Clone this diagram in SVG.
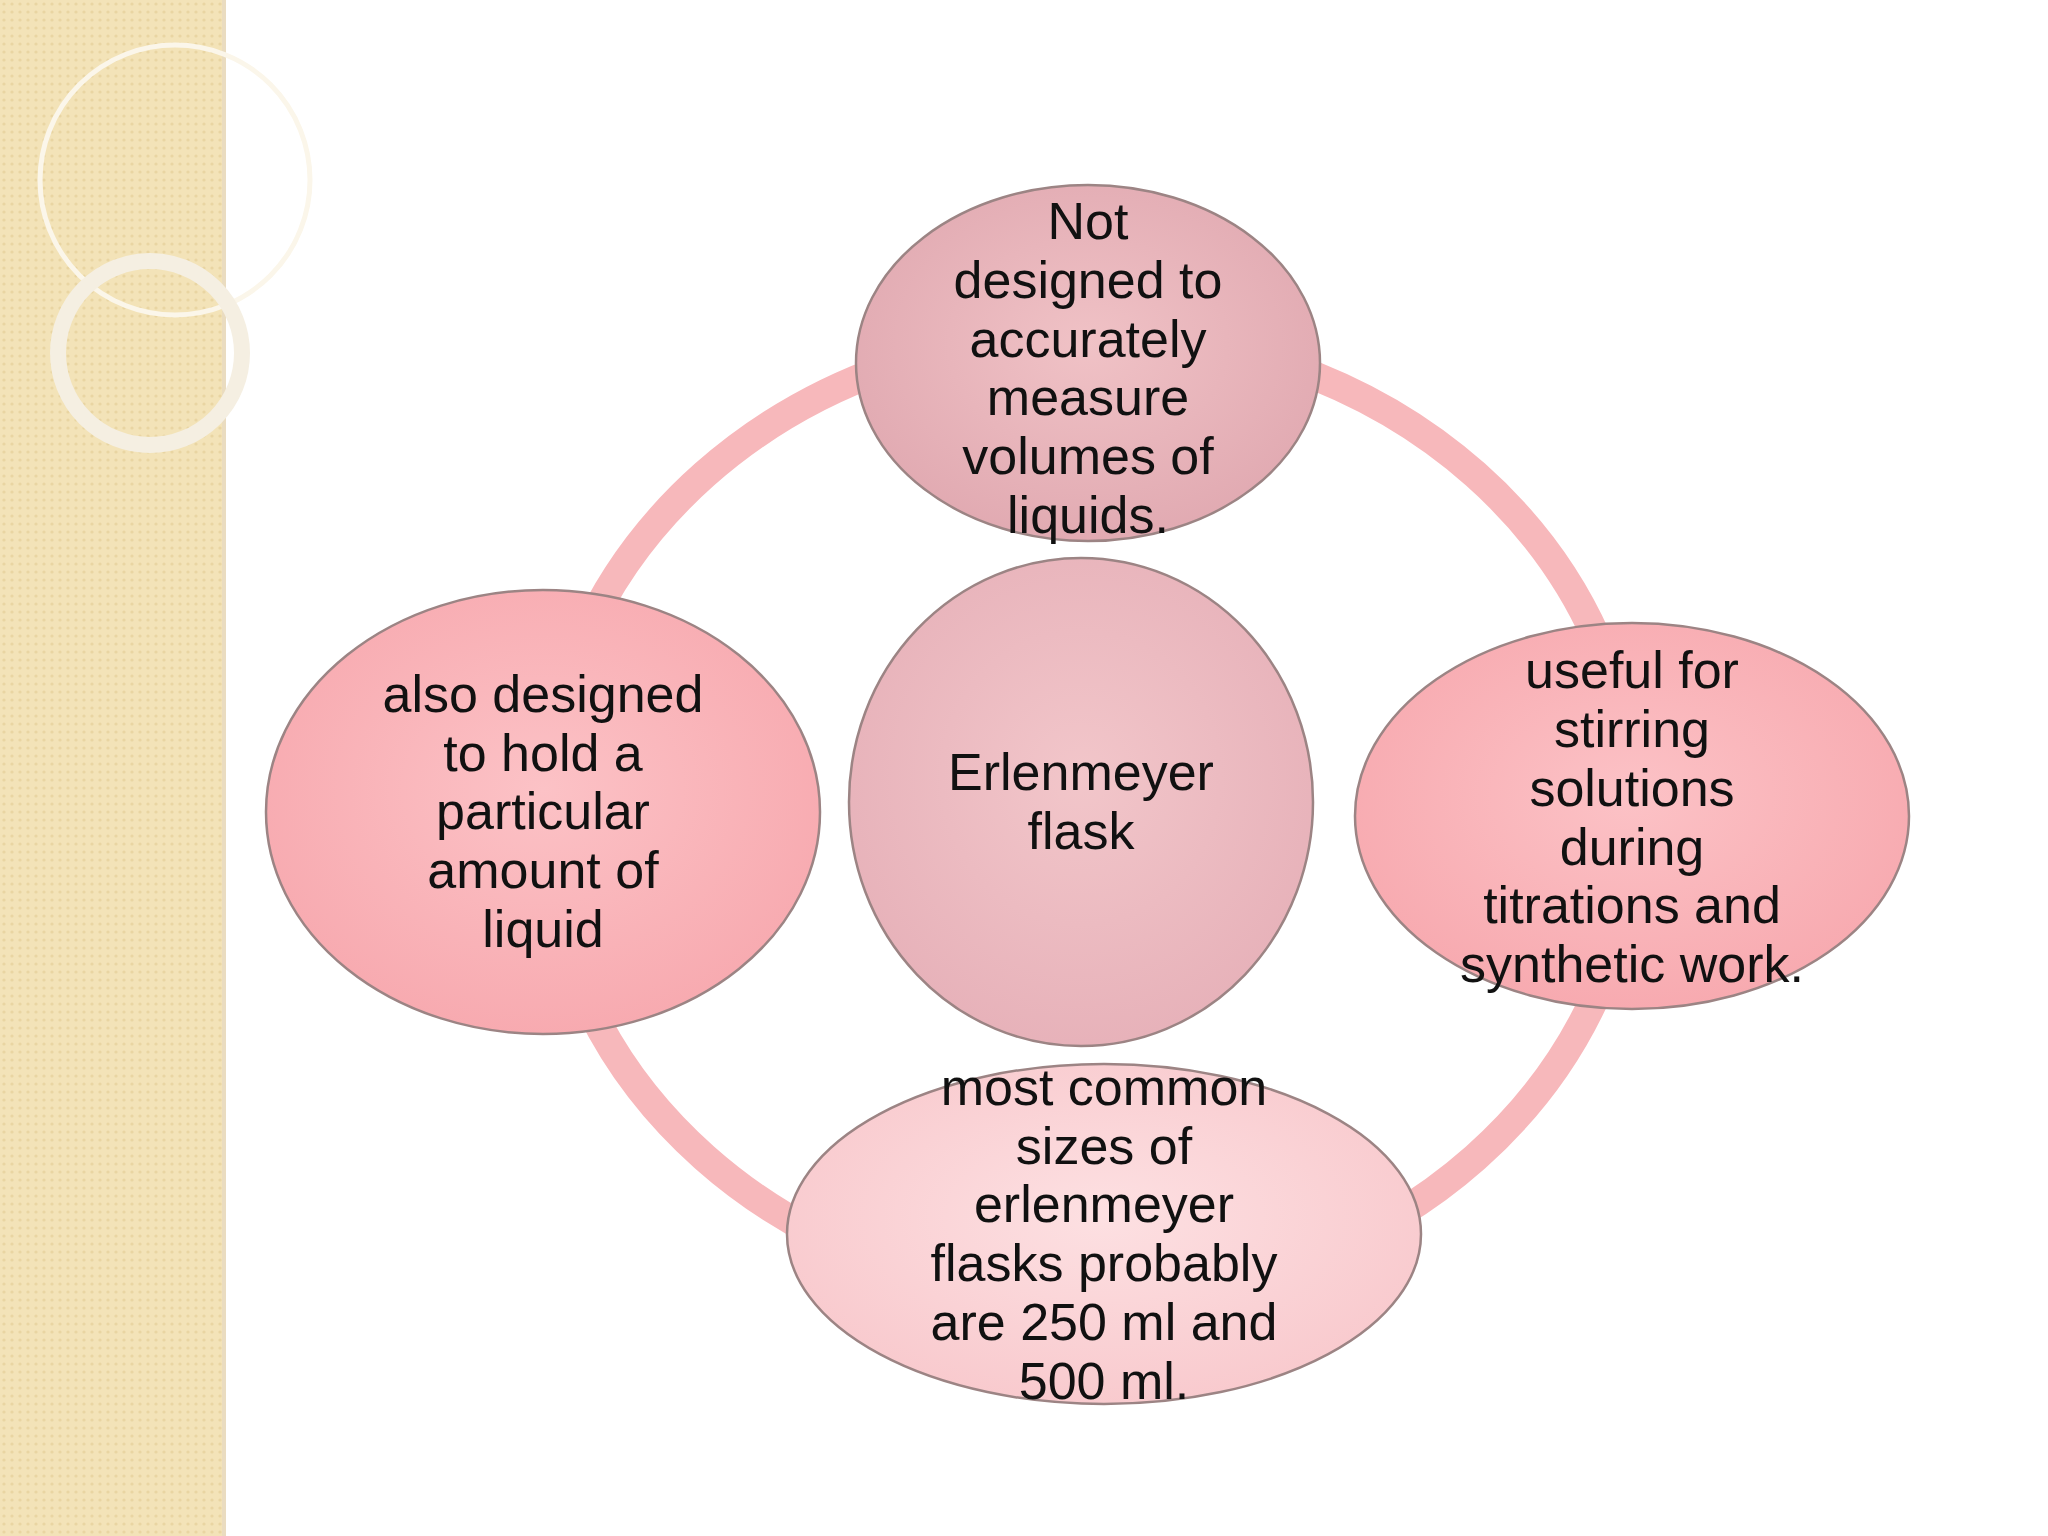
<svg xmlns="http://www.w3.org/2000/svg" width="2048" height="1536" viewBox="0 0 2048 1536">
<style>
.t{font-family:"Liberation Sans",Arial,sans-serif;font-size:52px;fill:#111;text-anchor:middle}
.n{stroke:#9c8484;stroke-width:2.5}
</style>
<defs>
<pattern id="dots" width="8" height="8" patternUnits="userSpaceOnUse"><rect width="8" height="8" fill="#f3e3b8"/><circle cx="4" cy="4" r="1.6" fill="#e9d5a2"/></pattern>
<radialGradient id="g1" cx="50%" cy="45%" r="60%"><stop offset="0" stop-color="#f0c2c6"/><stop offset="1" stop-color="#e0a8b0"/></radialGradient>
<radialGradient id="g2" cx="50%" cy="45%" r="60%"><stop offset="0" stop-color="#f2c6ca"/><stop offset="1" stop-color="#e6b0b8"/></radialGradient>
<radialGradient id="g3" cx="50%" cy="45%" r="60%"><stop offset="0" stop-color="#fcc2c6"/><stop offset="1" stop-color="#f7a8ae"/></radialGradient>
<radialGradient id="g4" cx="50%" cy="45%" r="60%"><stop offset="0" stop-color="#fde0e2"/><stop offset="1" stop-color="#f8c8cc"/></radialGradient>
</defs>
<rect width="2048" height="1536" fill="#fff"/>
<rect width="226" height="1536" fill="url(#dots)"/>
<rect x="222" width="4" height="1536" fill="#eadcc0"/>
<circle cx="175" cy="180" r="135" fill="none" stroke="#fbf6ea" stroke-width="5"/>
<circle cx="150" cy="353" r="92" fill="none" stroke="#f5efe2" stroke-width="16"/>
<g id="connectors">
<ellipse cx="1090" cy="816" rx="545" ry="483" fill="none" stroke="#f7b8bb" stroke-width="29"/>
</g>
<g id="center"><ellipse class="n" cx="1081" cy="802" rx="232" ry="244" fill="url(#g2)"/>
<text class="t" x="1081" y="790">Erlenmeyer</text><text class="t" x="1081" y="849">flask</text></g>
<g id="top"><ellipse class="n" cx="1088" cy="363" rx="232" ry="178" fill="url(#g1)"/>
<text class="t" x="1088" y="239">Not</text><text class="t" x="1088" y="298">designed to</text><text class="t" x="1088" y="357">accurately</text><text class="t" x="1088" y="415">measure</text><text class="t" x="1088" y="474">volumes of</text><text class="t" x="1088" y="533">liquids.</text></g>
<g id="left"><ellipse class="n" cx="543" cy="812" rx="277" ry="222" fill="url(#g3)"/>
<text class="t" x="543" y="712">also designed</text><text class="t" x="543" y="771">to hold a</text><text class="t" x="543" y="829">particular</text><text class="t" x="543" y="888">amount of</text><text class="t" x="543" y="947">liquid</text></g>
<g id="right"><ellipse class="n" cx="1632" cy="816" rx="277" ry="193" fill="url(#g3)"/>
<text class="t" x="1632" y="688">useful for</text><text class="t" x="1632" y="747">stirring</text><text class="t" x="1632" y="806">solutions</text><text class="t" x="1632" y="865">during</text><text class="t" x="1632" y="923">titrations and</text><text class="t" x="1632" y="982">synthetic work.</text></g>
<g id="bottom"><ellipse class="n" cx="1104" cy="1234" rx="317" ry="170" fill="url(#g4)"/>
<text class="t" x="1104" y="1105">most common</text><text class="t" x="1104" y="1164">sizes of</text><text class="t" x="1104" y="1222">erlenmeyer</text><text class="t" x="1104" y="1281">flasks probably</text><text class="t" x="1104" y="1340">are 250 ml and</text><text class="t" x="1104" y="1399">500 ml.</text></g>
</svg>
